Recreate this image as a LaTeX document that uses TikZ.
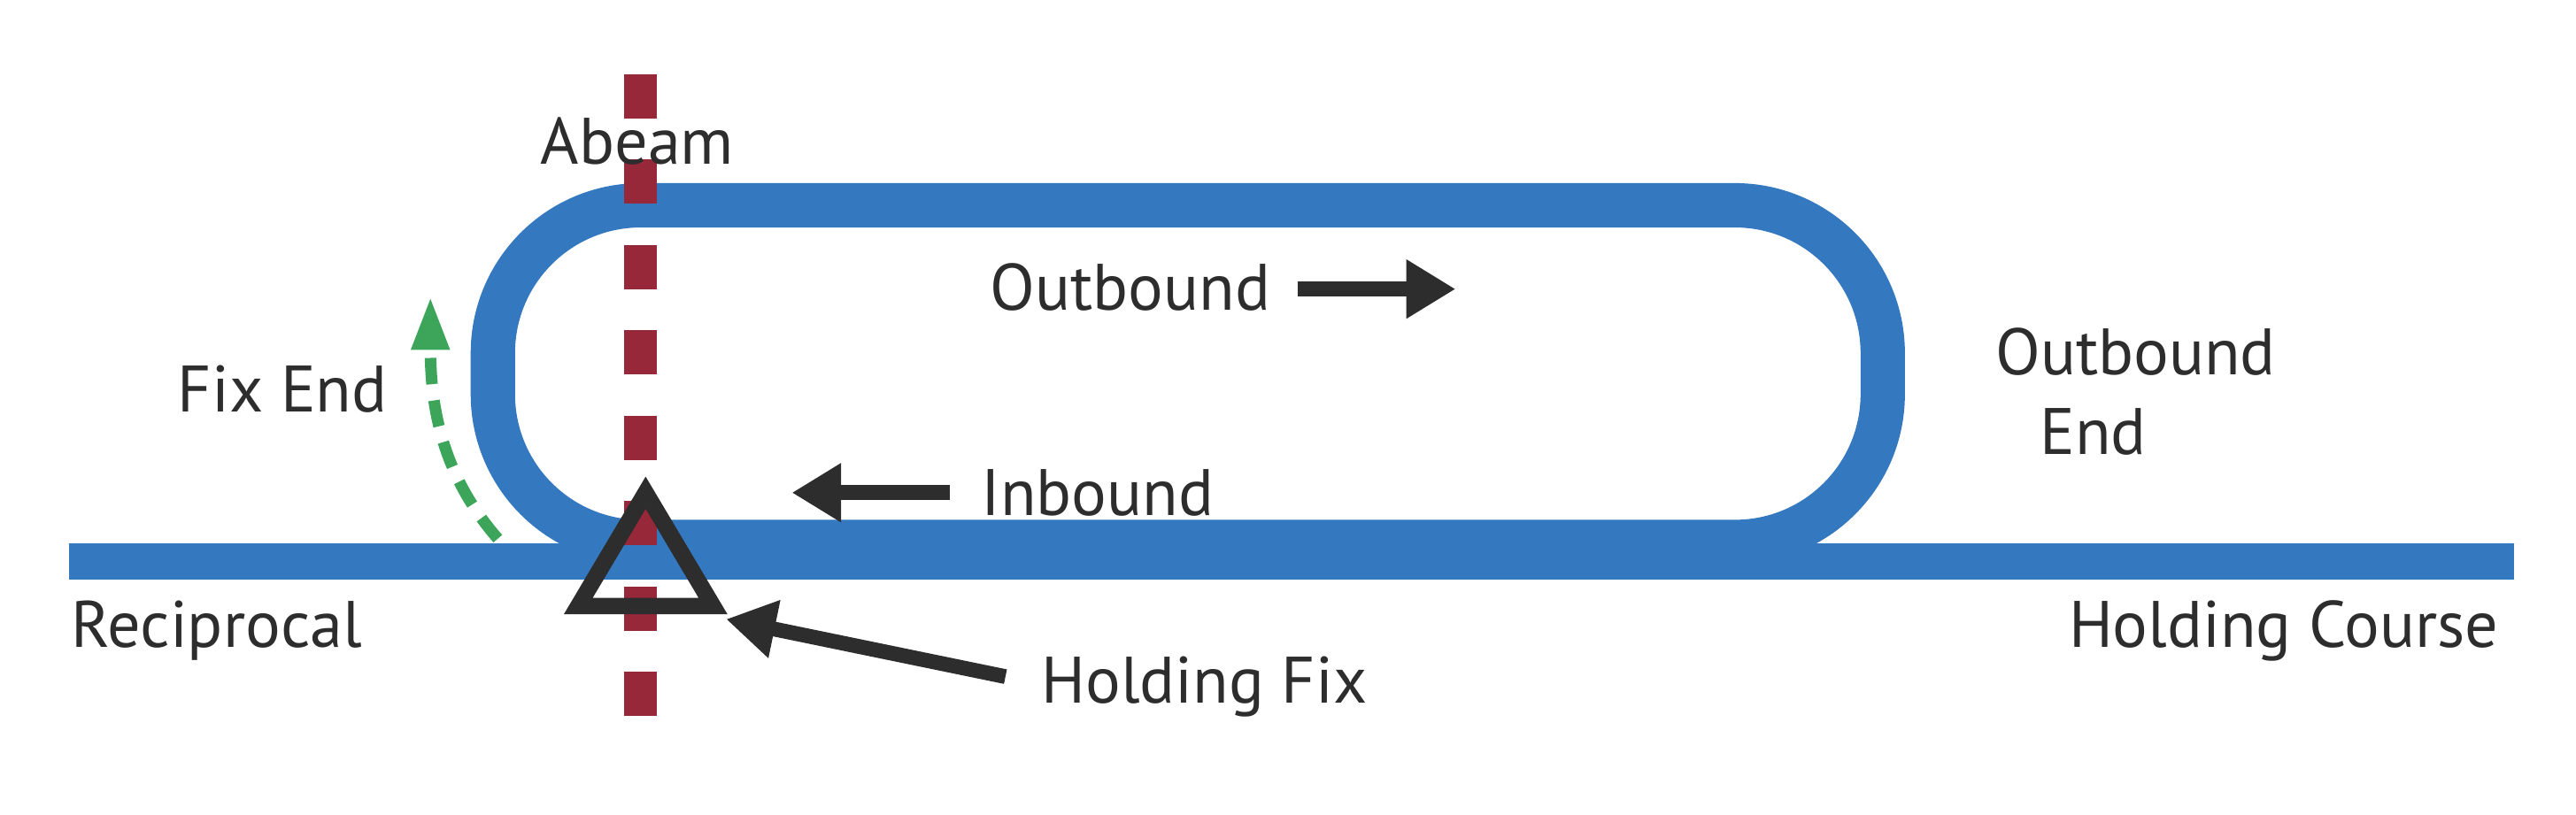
\documentclass[tikz,border=0pt]{standalone}
\usepackage{fontspec}
\setmainfont{PT Sans}
\usetikzlibrary{arrows.meta}
\definecolor{trk}{RGB}{52,120,192}
\definecolor{abm}{RGB}{150,40,58}
\definecolor{grn}{RGB}{60,165,90}
\definecolor{txt}{RGB}{45,45,45}
\tikzset{lbl/.style={text=txt,font=\fontsize{40}{44}\selectfont,inner sep=0pt},
 blk/.style={draw=txt,line width=9pt,-{Triangle[length=30pt,width=34pt]}}}
\begin{document}
\begin{tikzpicture}[x=1pt,y=-1pt]
\useasboundingbox (0,0) rectangle (1568,496);
\draw[trk,line width=22pt] (42,342) -- (1530,342);
\draw[trk,line width=27pt,rounded corners=90pt] (300,330) rectangle (1146,125);
\draw[abm,line width=20pt,dash pattern=on 27pt off 25pt] (390,45) -- (390,452);
\coordinate (t1) at (352,369); \coordinate (t2) at (434,369); \coordinate (t3) at (393,300);
\draw[txt,line width=10pt,line join=miter] (t1)--(t2)--(t3)--cycle;
\node[lbl] (abeam) at (388,86) {Abeam};
\node[lbl] (out) at (688,175) {Outbound};
\coordinate (o1) at (790,176); \coordinate (o2) at (886,176);
\draw[blk] (o1)--(o2);
\node[lbl] (inb) at (668,300) {Inbound};
\coordinate (i1) at (578,300); \coordinate (i2) at (482,300);
\draw[blk] (i1)--(i2);
\node[lbl] (hf) at (733,418) {Holding Fix};
\coordinate (h1) at (612,412); \coordinate (h2) at (442,377);
\draw[blk] (h1)--(h2);
\node[lbl] (oe1) at (1300,214) {Outbound};
\node[lbl] (oe2) at (1274,263) {End};
\node[lbl] (fe) at (172,237) {Fix End};
\node[lbl] (rec) at (132,384) {Reciprocal};
\node[lbl] (hc) at (1390,384) {Holding Course};
\coordinate (g1) at (303,328); \coordinate (g2) at (262,182);
\draw[grn,line width=7pt,dash pattern=on 16pt off 10pt] (g1) .. controls (270,290) and (262,250) .. (262,212);
\fill[grn] (g2) -- (250,213) -- (274,213) -- cycle;
\end{tikzpicture}
\end{document}
